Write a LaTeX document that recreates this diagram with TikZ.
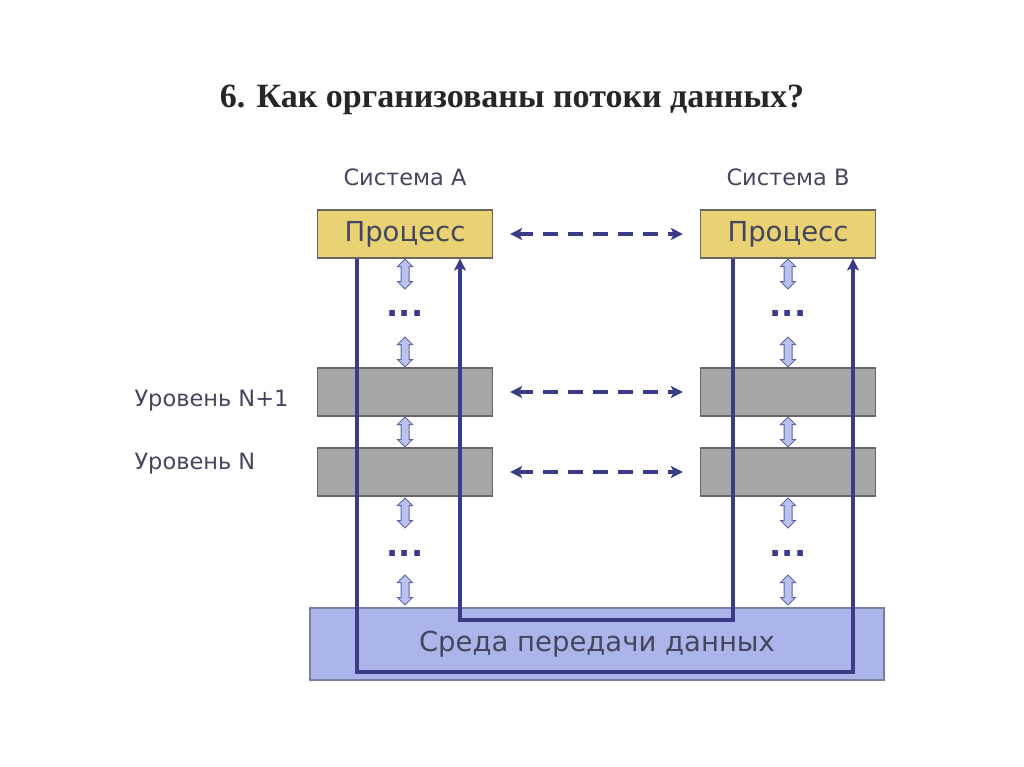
\documentclass[tikz,border=0pt]{standalone}
\usepackage{fontspec}
\setmainfont{Liberation Serif}
\newfontfamily\diagfont{DejaVu Sans}
\usetikzlibrary{shapes.arrows, arrows.meta, positioning, calc}

\definecolor{textgray}{HTML}{45455E}
\definecolor{flowblue}{HTML}{3B3B8A}
\definecolor{procfill}{HTML}{E8D274}
\definecolor{layerfill}{HTML}{A6A6A6}
\definecolor{mediafill}{HTML}{ABB5EA}
\definecolor{stackfill}{HTML}{BAC2F2}

\begin{document}
\begin{tikzpicture}[%
    x=1pt, y=-1pt,
    >={Stealth[length=12pt, width=12pt, inset=3pt]},
    ]

\tikzset{
  base/.style={draw=gray!80!black, line width=1.2pt, minimum width=175pt, minimum height=48pt, inner sep=0pt, font=\diagfont\fontsize{27.5}{29}\selectfont, text=textgray},
  proc/.style={base, fill=procfill},
  layer/.style={base, fill=layerfill},
  media/.style={base, fill=mediafill, draw=mediafill!70!black, minimum width=574pt, minimum height=72pt},
  sys/.style={font=\diagfont\fontsize{22.5}{24}\selectfont, text=textgray},
  lvl/.style={font=\diagfont\fontsize{22.5}{24}\selectfont, text=textgray, anchor=west},
  stack/.style={double arrow, draw=flowblue!80, fill=stackfill, line width=1pt, rotate=90, minimum height=30pt, inner xsep=0pt, inner ysep=3.5pt, double arrow head extend=3.5pt},
  dots/.style={font=\diagfont\bfseries\fontsize{32}{32}\selectfont, text=flowblue},
  peer/.style={<->, flowblue, line width=4pt, dash pattern=on 15pt off 10pt},
  flow/.style={->, flowblue, line width=3.5pt}
  };

\useasboundingbox (0,0) rectangle (1024,767);

% title
\node[font=\bfseries\fontsize{34}{36}\selectfont, text=black!85] (title) at (512,100) {6. Как организованы потоки данных?};

% System A
\node[sys] (sysA) at (405,177) {Система А};
\node[proc] (procA) at (405,234) {Процесс};
\node[layer] (upA) at (405,392) {};
\node[layer] (lowA) at (405,472) {};

% System B
\node[sys] (sysB) at (788,177) {Система В};
\node[proc] (procB) at (788,234) {Процесс};
\node[layer] (upB) at (788,392) {};
\node[layer] (lowB) at (788,472) {};

% levels
\node[lvl] (lvlUp) at (131,401) {Уровень N+1};
\node[lvl] (lvlLow) at (131,464) {Уровень N};

% medium
\node[media] (medium) at (597,644) {Среда передачи данных};

% dots
\node[dots] (dotsA1) at (405,313) {...};
\node[dots] (dotsA2) at (405,553) {...};
\node[dots] (dotsB1) at (788,313) {...};
\node[dots] (dotsB2) at (788,553) {...};

% vertical stack arrows
\foreach \x/\s in {405/A, 788/B} {
  \node[stack] (st\s1) at (\x,274) {};
  \node[stack] (st\s2) at (\x,352) {};
  \node[stack] (st\s3) at (\x,432) {};
  \node[stack] (st\s4) at (\x,513) {};
  \node[stack] (st\s5) at (\x,590) {};
}

% peer protocols
\draw[peer] ([xshift=17pt]procA.east) -- ([xshift=-17pt]procB.west);
\draw[peer] ([xshift=17pt]upA.east) -- ([xshift=-17pt]upB.west);
\draw[peer] ([xshift=17pt]lowA.east) -- ([xshift=-17pt]lowB.west);

% data flow
\coordinate (outL) at (357,672);
\coordinate (outR) at (853,672);
\coordinate (inR) at (733,620);
\coordinate (inL) at (460,620);

\draw[flow] ([xshift=-48pt]procA.south) -- (outL) -- (outR) -- ([xshift=65pt]procB.south);
\draw[flow] ([xshift=-55pt]procB.south) -- (inR) -- (inL) -- ([xshift=55pt]procA.south);

\end{tikzpicture}
\end{document}
